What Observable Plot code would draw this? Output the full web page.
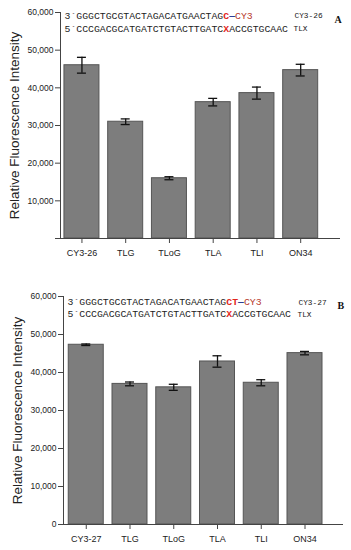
<!DOCTYPE html>
<html><head><meta charset="utf-8">
<script src="https://cdn.jsdelivr.net/npm/d3@7"></script>
<script src="https://cdn.jsdelivr.net/npm/@observablehq/plot@0.6"></script>
<style>
body{margin:0;background:#fff;width:351px;}
#chart svg{display:block;}
</style></head><body><div id="chart"></div>
<script>
// ---- data ----
const categoriesA = ["CY3-26", "TLG", "TLoG", "TLA", "TLI", "ON34"];
const meansA = [46000, 31000, 16000, 36200, 38600, 44700];
const errorsA = [2100, 750, 400, 1000, 1600, 1550];

const categoriesB = ["CY3-27", "TLG", "TLoG", "TLA", "TLI", "ON34"];
const meansB = [47300, 37000, 36100, 42900, 37300, 45100];
const errorsB = [200, 500, 800, 1500, 800, 450];

const yTicks = [0, 10000, 20000, 30000, 40000, 50000, 60000];
const yLabel = "Relative Fluorescence Intensity";

const seqTopA = ["3`GGGCTGCGTACTAGACATGAACTAG", "C", "—", "CY3"];
const seqTopB = ["3`GGGCTGCGTACTAGACATGAACTAG", "CT", "—", "CY3"];
const seqBottom = ["5`CCCGACGCATGATCTGTACTTGATC", "X", "ACCGTGCAAC"];
const seqTopRoles = ["plain", "mut", "link", "dye"];
const seqBottomRoles = ["plain", "mut", "plain"];
const strandTopA = "CY3-26";
const strandTopB = "CY3-27";
const strandBottom = "TLX";
const panelLetters = ["A", "B"];

// ---- styles ----
const roleStyle = {
  plain: {fill: "#222", fontWeight: "normal"},
  mut: {fill: "#e2261c", fontWeight: "bold"},
  link: {fill: "#2b3f96", fontWeight: "bold"},
  dye: {fill: "#b8392c", fontWeight: "normal"}
};
const mono = "'Liberation Mono', 'Courier New', monospace";
const seqSize = 9.8;
const cw = seqSize * 0.6;

function seqMarks(segs, roles, dx, dy) {
  const marks = [];
  let off = 0;
  segs.forEach((s, i) => {
    const st = roleStyle[roles[i]];
    marks.push(Plot.text([s], {
      text: d => d, frameAnchor: "top-left", textAnchor: "start", lineAnchor: "middle",
      dx: dx + off * cw, dy, fontFamily: mono, fontSize: seqSize,
      fill: st.fill, fontWeight: st.fontWeight
    }));
    off += s.length;
  });
  return marks;
}

function panel(cfg) {
  const data = cfg.cats.map((c, i) => ({cat: c, mean: cfg.means[i], err: cfg.errs[i]}));
  const fmt = d => (d === 0 && !cfg.showZero) ? "" : d3.format(",")(d);
  return Plot.plot({
    width: 351,
    height: cfg.height,
    marginTop: cfg.mt,
    marginBottom: cfg.mb,
    marginLeft: cfg.ml,
    marginRight: cfg.mr,
    style: {fontFamily: "'Liberation Sans', Arial, sans-serif", background: "#fff"},
    x: {domain: cfg.cats, paddingInner: 0.2, paddingOuter: 0.3, align: cfg.align, round: false, label: null},
    y: {domain: [0, 60000], label: null},
    marks: [
      Plot.barY(data, {x: "cat", y: "mean", fill: "#7d7d7d", stroke: "#555", strokeWidth: 1}),
      Plot.ruleX(data, {x: "cat", y1: d => d.mean - d.err, y2: d => d.mean + d.err, stroke: "#111", strokeWidth: 1.3}),
      Plot.tickY(data, {x: "cat", y: d => d.mean - d.err, insetLeft: 13, insetRight: 13, stroke: "#111", strokeWidth: 1.3}),
      Plot.tickY(data, {x: "cat", y: d => d.mean + d.err, insetLeft: 13, insetRight: 13, stroke: "#111", strokeWidth: 1.3}),
      Plot.axisY({ticks: yTicks, tickFormat: fmt, tickSize: 5, tickPadding: 2, fontSize: 8.5, stroke: "#444", fill: "#222", label: null}),
      Plot.axisX({tickSize: 5, tickPadding: 6, fontSize: 9, stroke: "#444", fill: "#222", label: null}),
      Plot.frame({anchor: "left", stroke: "#444"}),
      Plot.ruleY([0], {stroke: "#444"}),
      Plot.text([yLabel], {text: d => d, frameAnchor: "left", textAnchor: "middle", lineAnchor: "middle", rotate: -90, dx: -46, fontSize: 13.5, fill: "#222"}),
      ...seqMarks(cfg.seqTop, seqTopRoles, cfg.sx, cfg.sy1),
      ...seqMarks(seqBottom, seqBottomRoles, cfg.sx, cfg.sy2),
      Plot.text([cfg.strandTop], {text: d => d, frameAnchor: "top-left", textAnchor: "start", lineAnchor: "middle", dx: cfg.rx, dy: cfg.sy1, fontFamily: mono, fontSize: 7.8, fill: "#222"}),
      Plot.text([strandBottom], {text: d => d, frameAnchor: "top-left", textAnchor: "start", lineAnchor: "middle", dx: cfg.rx - 1, dy: cfg.sy2, fontFamily: mono, fontSize: 7.8, fill: "#222"}),
      Plot.text([cfg.letter], {text: d => d, frameAnchor: "top-left", textAnchor: "start", lineAnchor: "middle", dx: cfg.lx, dy: cfg.ly, fontFamily: "'Liberation Serif', 'Times New Roman', serif", fontWeight: "bold", fontSize: 10, fill: "#111"})
    ]
  });
}

const root = document.getElementById("chart");
root.append(panel({
  cats: categoriesA, means: meansA, errs: errorsA, showZero: false,
  height: 270, mt: 12, mb: 32, ml: 60, mr: 11, align: 0.15,
  seqTop: seqTopA, strandTop: strandTopA, letter: panelLetters[0],
  sx: 4, sy1: 3, sy2: 16, rx: 234, lx: 274, ly: 7
}));
root.append(panel({
  cats: categoriesB, means: meansB, errs: errorsB, showZero: true,
  height: 280, mt: 26, mb: 26, ml: 63, mr: 8, align: 0.2,
  seqTop: seqTopB, strandTop: strandTopB, letter: panelLetters[1],
  sx: 4, sy1: 5.5, sy2: 17.5, rx: 235, lx: 274, ly: 9.5
}));
</script>
</body></html>
